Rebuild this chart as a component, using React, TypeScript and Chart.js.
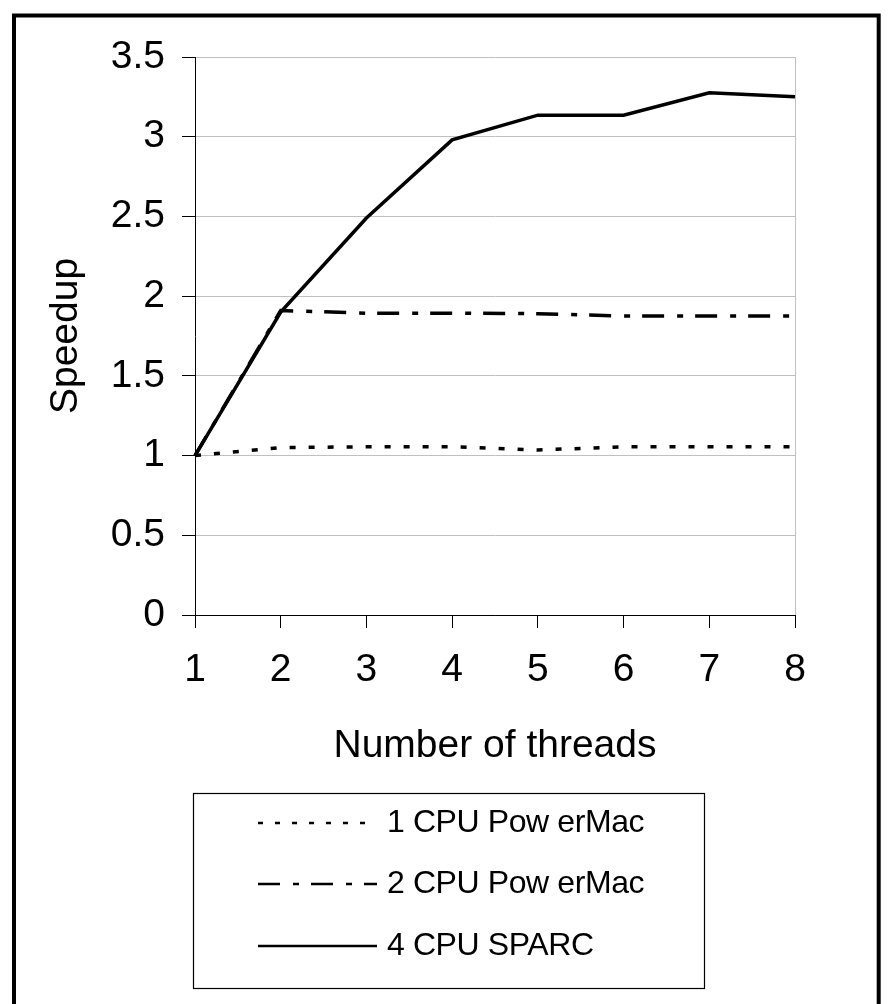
import React, { useEffect, useRef } from 'react';
import { Chart, registerables } from 'chart.js';

Chart.register(...registerables);

const FONT = '"Liberation Sans", Arial, Helvetica, sans-serif';

// ---- data ----
const threads = ['1', '2', '3', '4', '5', '6', '7', '8'];
const seriesLabels = ['1 CPU Pow erMac', '2 CPU Pow erMac', '4 CPU SPARC'];
const cpu1PowerMac = [1.0, 1.05, 1.055, 1.055, 1.035, 1.055, 1.055, 1.055];
const cpu2PowerMac = [1.0, 1.91, 1.893, 1.893, 1.89, 1.875, 1.875, 1.875];
const cpu4Sparc = [1.0, 1.9, 2.49, 2.98, 3.135, 3.135, 3.275, 3.25];
const yMin = 0;
const yMax = 3.5;
const yStep = 0.5;
const xTitle = 'Number of threads';
const yTitle = 'Speedup';

const outerBorder = {
  id: 'outerBorder',
  beforeDraw(chart: any) {
    const ctx = chart.ctx;
    ctx.save();
    ctx.fillStyle = '#fff';
    ctx.fillRect(0, 0, chart.width, chart.height);
    ctx.strokeStyle = '#000';
    ctx.lineWidth = 4;
    ctx.strokeRect(14, 15.5, 864.7, 1000);
    ctx.restore();
  },
};

const legendDashes = [[5, 12], [22, 13, 6, 12], []];

const boxLegend = {
  id: 'boxLegend',
  afterDraw(chart: any) {
    const ctx = chart.ctx;
    ctx.save();
    ctx.strokeStyle = '#000';
    ctx.lineWidth = 1.2;
    ctx.strokeRect(193.5, 793.5, 511, 195);
    const rowsY = [823, 884, 946];
    chart.data.datasets.forEach((ds: any, i: number) => {
      const y = rowsY[i];
      ctx.beginPath();
      ctx.setLineDash(legendDashes[i]);
      ctx.lineWidth = 2.5;
      ctx.strokeStyle = '#000';
      ctx.moveTo(258, y);
      ctx.lineTo(377, y);
      ctx.stroke();
      ctx.setLineDash([]);
      ctx.font = `32px ${FONT}`;
      ctx.textBaseline = 'middle';
      ctx.textAlign = 'left';
      ctx.fillStyle = '#000';
      (ctx as any).letterSpacing = '-0.4px';
      ctx.fillText(ds.label, 387, y);
      (ctx as any).letterSpacing = '0px';
    });
    ctx.restore();
  },
};

export default function App() {
  const ref = useRef<HTMLCanvasElement>(null);

  useEffect(() => {
    if (!ref.current) return;
    const chart = new Chart(ref.current, {
      type: 'line',
      data: {
        labels: threads,
        datasets: [
          {
            label: seriesLabels[0],
            data: cpu1PowerMac,
            borderColor: '#000',
            borderWidth: 3.5,
            borderDash: [6, 13],
            pointRadius: 0,
            fill: false,
          },
          {
            label: seriesLabels[1],
            data: cpu2PowerMac,
            borderColor: '#000',
            borderWidth: 3.5,
            borderDash: [22, 13, 6, 12],
            pointRadius: 0,
            fill: false,
          },
          {
            label: seriesLabels[2],
            data: cpu4Sparc,
            borderColor: '#000',
            borderWidth: 3.5,
            pointRadius: 0,
            fill: false,
          },
        ],
      },
      options: {
        animation: false,
        responsive: false,
        layout: { padding: { left: 0, top: 57, right: 98, bottom: 0 } },
        plugins: {
          legend: { display: false },
          tooltip: { enabled: false },
        },
        elements: { line: { tension: 0 } },
        scales: {
          x: {
            type: 'category',
            offset: false,
            grid: {
              color: (c: any) => (c.index === threads.length - 1 ? '#c0c0c0' : 'rgba(0,0,0,0)'),
              tickColor: '#000',
              tickLength: 13,
              lineWidth: 1,
            },
            border: { color: '#000', width: 1 },
            ticks: {
              color: '#000',
              font: { family: FONT, size: 39 },
              padding: 19,
              maxRotation: 0,
              autoSkip: false,
            },
            title: {
              display: true,
              text: xTitle,
              color: '#000',
              font: { family: FONT, size: 39 },
              padding: { top: 0, bottom: 234 },
            },
            afterFit: (s: any) => {
              s.height = 389;
            },
          },
          y: {
            min: yMin,
            max: yMax,
            grid: {
              color: (c: any) => (c.tick && c.tick.value === 0 ? '#000' : '#c0c0c0'),
              tickColor: '#000',
              tickLength: 13,
              lineWidth: 1,
            },
            border: { color: '#000', width: 1 },
            ticks: {
              stepSize: yStep,
              color: '#000',
              font: { family: FONT, size: 39 },
              padding: 17,
              callback: (v: any) => String(v),
            },
            title: {
              display: true,
              text: yTitle,
              color: '#000',
              font: { family: FONT, size: 39 },
              padding: { top: 43, bottom: 0 },
            },
            afterFit: (s: any) => {
              s.width = 195;
            },
          },
        },
      },
      plugins: [outerBorder, boxLegend],
    } as any);
    return () => chart.destroy();
  }, []);

  return (
    <canvas
      ref={ref}
      width={893}
      height={1004}
      style={{ position: 'absolute', left: 0, top: 0, display: 'block' }}
    />
  );
}
